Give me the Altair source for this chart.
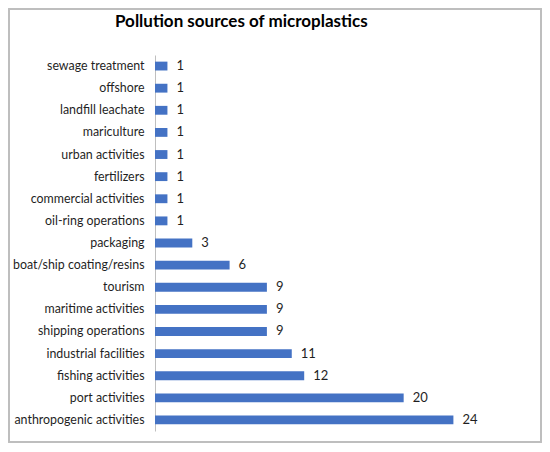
import pandas as pd
import altair as alt

# Pollution sources of microplastics (number of studies)
sources = [
    "sewage treatment",
    "offshore",
    "landfill leachate",
    "mariculture",
    "urban activities",
    "fertilizers",
    "commercial activities",
    "oil-ring operations",
    "packaging",
    "boat/ship coating/resins",
    "tourism",
    "maritime activities",
    "shipping operations",
    "industrial facilities",
    "fishing activities",
    "port activities",
    "anthropogenic activities",
]
counts = [1, 1, 1, 1, 1, 1, 1, 1, 3, 6, 9, 9, 9, 11, 12, 20, 24]

df = pd.DataFrame({"source": sources, "count": counts})

W = 373
H = 376
font = "Lato"

base = alt.Chart(df).encode(
    y=alt.Y("source:N", sort=sources, title=None,
            scale=alt.Scale(paddingInner=0.6, paddingOuter=0.3),
            axis=alt.Axis(ticks=False, labelPadding=11, labelFontSize=12.4,
                          labelFont=font, labelColor="#1f1f1f",
                          domainColor="#BFBFBF", domainWidth=1)),
    x=alt.X("count:Q", title=None, scale=alt.Scale(domain=[0, 30]), axis=None),
)

bars = base.mark_bar(color="#4472C4")
labels = base.mark_text(align="left", dx=9, font=font, fontSize=13,
                        color="#1f1f1f").encode(text="count:Q")

# light grey border round the whole chart
frame = alt.Chart(df).mark_rect(fill=None, stroke="#BFBFBF", strokeWidth=1.5).encode(
    x=alt.value(-146),
    x2=alt.value(W + 13),
    y=alt.value(-46),
    y2=alt.value(H + 11),
)

chart = (frame + bars + labels).properties(
    width=W,
    height=H,
    padding={"left": 147, "top": 47, "right": 14, "bottom": 12},
    autosize=alt.AutoSizeParams(type="none"),
    title=alt.TitleParams("Pollution sources of microplastics", anchor="start",
                          frame="group", dx=-40, offset=-23, fontSize=17,
                          font=font, fontWeight="bold", color="#000000"),
).configure_view(stroke=None)

chart.save("out.html", embed_options={"renderer": "svg", "actions": False})
